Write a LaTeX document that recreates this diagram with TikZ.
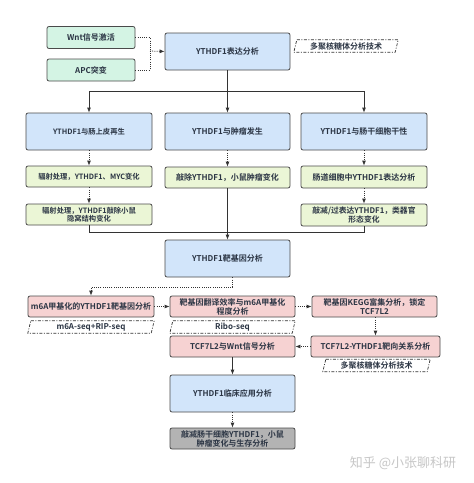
\documentclass[tikz,border=0pt]{standalone}
\usepackage{fontspec}
\setmainfont{Noto Sans CJK SC}[BoldFont={* Bold}]
\usetikzlibrary{arrows.meta}
\definecolor{mint}{HTML}{D4F4E4}
\definecolor{sky}{HTML}{D2E5FA}
\definecolor{lime}{HTML}{EBF6D6}
\definecolor{rose}{HTML}{F6D2D2}
\definecolor{grayfill}{HTML}{B3B3B3}
\definecolor{edge}{HTML}{4A4A4A}
\definecolor{linec}{HTML}{333333}
\definecolor{txt}{HTML}{2B3544}
\tikzset{
  base/.style={draw=edge, line width=0.8pt, rounded corners=2pt, align=center,
    font=\bfseries\fontsize{8}{9}\selectfont, inner sep=1pt, text=txt},
  greenbox/.style={base, fill=mint, minimum width=88pt, minimum height=22pt},
  bluebox/.style={base, fill=sky, minimum width=125pt, minimum height=37pt},
  limebox/.style={base, fill=lime, minimum width=126pt, minimum height=21pt},
  rosebox/.style={base, fill=rose, minimum width=125pt, minimum height=21pt},
  greybox/.style={base, fill=grayfill, minimum width=125pt, minimum height=21pt},
  anno/.style={inner sep=0pt, minimum height=12pt, align=center,
    font=\bfseries\fontsize{8}{9}\selectfont, text=txt},
  annoline/.style={draw=linec, line width=0.7pt, dash pattern=on 3pt off 1.5pt on 1pt off 1.5pt},
  solidline/.style={draw=linec, line width=0.8pt},
  solidarr/.style={solidline, -{Latex[length=5pt,width=4pt]}},
  dotline/.style={draw=linec, line width=0.8pt, dash pattern=on 1pt off 1.2pt},
  dotarr/.style={dotline, -{Latex[length=5pt,width=4pt]}},
}
\newcommand{\annobox}[1]{\draw[annoline] ([xshift=3pt]#1.north west) -- (#1.north east) -- ([xshift=-3pt]#1.south east) -- (#1.south west) -- cycle;}
\begin{document}
\begin{tikzpicture}[x=1pt,y=-1pt]
\useasboundingbox[fill=white] (0,0) rectangle (474,483);

% top
\node[greenbox] (wnt) at (91,37.5) {Wnt信号激活};
\node[greenbox] (apc) at (91,70) {APC突变};
\node[bluebox] (expr) at (227.5,51.5) {YTHDF1表达分析};
\node[anno, minimum width=104pt] (an0) at (346,46) {多聚核糖体分析技术};
\annobox{an0}
\coordinate (j1) at (150,51);
\draw[dotline] (wnt.east) -| (j1);
\draw[dotline] (apc.east) -| (j1);
\draw[dotarr] (j1) -- (expr.west);

% row 2
\node[bluebox, minimum width=126pt, font=\bfseries\fontsize{7.3}{8.5}\selectfont] (r2l) at (89,131.5) {YTHDF1与肠上皮再生};
\node[bluebox] (r2m) at (227.5,131.5) {YTHDF1与肿瘤发生};
\node[bluebox, minimum width=126pt] (r2r) at (364,131.5) {YTHDF1与肠干细胞干性};
\coordinate (split) at (227.5,91);
\draw[solidline] (expr.south) -- (split);
\draw[solidarr] (split) -| (r2l.north);
\draw[solidarr] (split) -| (r2r.north);
\draw[solidarr] (split) -- (r2m.north);

% row 3
\node[limebox, font=\bfseries\fontsize{7.3}{8.5}\selectfont] (r3l) at (89,176.5) {辐射处理，YTHDF1、MYC变化};
\node[limebox, minimum width=125pt] (r3m) at (227.5,177.5) {敲除YTHDF1，小鼠肿瘤变化};
\node[limebox, minimum height=22pt] (r3r) at (364,177) {肠道细胞中YTHDF1表达分析};
\draw[dotarr] (r2l.south) -- (r3l.north);
\draw[dotarr] (r2m.south) -- (r3m.north);
\draw[dotarr] (r2r.south) -- (r3r.north);

% row 4
\node[limebox, font=\bfseries\fontsize{7.3}{8.3}\selectfont] (r4l) at (89,214.5) {辐射处理，YTHDF1敲除小鼠\\隐窝结构变化};
\node[limebox, minimum height=22pt, font=\bfseries\fontsize{7.8}{8.8}\selectfont] (r4r) at (364,215) {敲减/过表达YTHDF1，类器官\\形态变化};
\draw[dotarr] (r3l.south) -- (r4l.north);
\draw[dotarr] (r3r.south) -- (r4r.north);

% target analysis
\node[bluebox] (tgt) at (227.5,258.5) {YTHDF1靶基因分析};
\coordinate (merge) at (227.5,232);
\draw[solidline] (r4l.south) |- (merge);
\draw[solidline] (r4r.south) |- (merge);
\draw[solidarr] (r3m.south) -- (tgt.north);

% pink row
\node[rosebox, minimum width=126pt] (p1) at (91,306.5) {m6A甲基化的YTHDF1靶基因分析};
\node[rosebox] (p2) at (232.5,306.5) {靶基因翻译效率与m6A甲基化\\程度分析};
\node[rosebox] (p3) at (374.5,306.5) {靶基因KEGG富集分析，锁定\\TCF7L2};
\node[anno, minimum width=126pt] (an1) at (91,327) {m6A-seq+RIP-seq};
\node[anno, minimum width=125pt] (an2) at (232.5,327) {Ribo-seq};
\annobox{an1}
\annobox{an2}
\coordinate (j2) at (232.5,287);
\draw[dotarr] (tgt.south -| j2) -- (j2) -| (p1.north);
\draw[dotarr] (p1.east) -- (p2.west);
\draw[dotarr] (p2.east) -- (p3.west);

% TCF7L2 row
\node[rosebox] (q1) at (232.5,346.5) {TCF7L2与Wnt信号分析};
\node[rosebox, minimum width=129pt] (q2) at (375.5,346.5) {TCF7L2-YTHDF1靶向关系分析};
\node[anno, minimum width=107pt] (an3) at (376.5,365.5) {多聚核糖体分析技术};
\annobox{an3}
\draw[dotarr] (p3.south -| q2) -- (q2.north);
\draw[dotarr] (q2.west) -- (q1.east);

% clinical
\node[bluebox] (clin) at (232.5,393.5) {YTHDF1临床应用分析};
\node[greybox] (gry) at (232.5,438.5) {敲减肠干细胞YTHDF1，小鼠\\肿瘤变化与生存分析};
\draw[solidarr] (q1.south) -- (clin.north);
\draw[dotarr] (clin.south) -- (gry.north);

% watermark
\node[text=black!22, font=\fontsize{13}{13}\selectfont, inner sep=0pt] (wm) at (403,463) {知乎 @小张聊科研};
\end{tikzpicture}
\end{document}
